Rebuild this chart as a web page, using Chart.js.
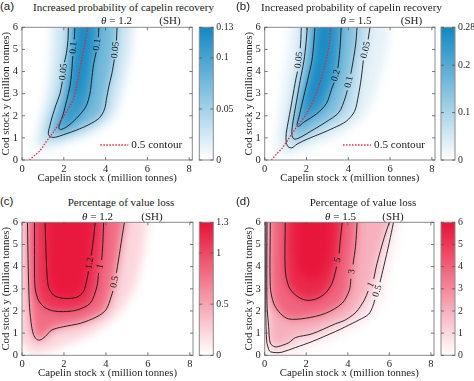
<!DOCTYPE html>
<html><head><meta charset="utf-8">
<script src="https://cdn.jsdelivr.net/npm/chart.js@4.4.1/dist/chart.umd.min.js"></script>
<style>
html,body{margin:0;padding:0;background:#fff;}
#fig{position:relative;width:474px;height:381px;overflow:hidden;background:#fff;}
.t{position:absolute;transform:translate(-50%,-50%);white-space:nowrap;font-family:"Liberation Serif",serif;font-size:11px;line-height:1;color:#1a1a1a;}
.p{position:absolute;transform:translateY(-50%);white-space:nowrap;font-family:"Liberation Sans",Arial,sans-serif;font-size:11.5px;line-height:1;color:#1a1a1a;}
</style></head><body><div id="fig"></div>
<script>
// ---------- axis ticks ----------
const xTicks = [0, 2, 4, 6, 8];
const yTicks = [0, 1, 2, 3, 4, 5, 6];
const aBarTicks = [0, 0.05, 0.1, 0.13];
const bBarTicks = [0, 0.1, 0.2, 0.28];
const cBarTicks = [0, 0.5, 1, 1.3];
const dBarTicks = [0, 1, 2, 3, 4, 5, 6];
const panelTitles = ['Increased probability of capelin recovery', 'Increased probability of capelin recovery', 'Percentage of value loss', 'Percentage of value loss'];
const thetas = ['1.2', '1.5', '1.2', '1.5'];
const xTitle = 'Capelin stock x (million tonnes)';
const yTitle = 'Cod stock y (million tonnes)';
const redLabel = '0.5 contour';

// ---------- panel (a) ----------
const aMax = 0.13;
const aLevels = [0.05, 0.1];
const aC005 = [[2.22,6],[2.2,5.4],[2.12,4.8],[2.03,4.42],null,[1.93,3.55],[1.82,3.0],[1.63,2.5],[1.46,2.0],[1.32,1.5],[1.26,1.2],[1.35,1.05],[1.6,1.03],[2.0,1.15],[2.6,1.35],[3.2,1.6],[3.7,1.9],[3.95,2.3],[4.05,2.8],[4.15,3.3],[4.3,3.9],[4.42,4.55],null,[4.52,5.4],[4.55,6]];
const aC01 = [[2.53,6],[2.5,5.45],null,[2.43,4.7],[2.37,3.9],[2.29,3.3],[2.14,2.7],[1.98,2.1],[1.82,1.65],[1.76,1.45],[1.85,1.38],[2.14,1.5],[2.6,1.88],[3.05,2.4],[3.25,3.0],[3.33,3.6],[3.42,4.3],[3.55,4.88],null,[3.65,5.55],[3.68,6]];
const aRed = [[0.35,0],[0.6,0.2],[0.86,0.42],[1.1,0.75],[1.34,1.05],[1.6,1.4],[1.95,1.9],[2.2,2.3],[2.45,2.75],[2.65,3.5],[2.85,4.5],[3.0,5.2],[3.15,6]];
const aHalo = [[1.45,6],[1.42,5],[1.35,4],[1.2,3],[0.95,2],[0.75,1.2],[0.7,0.7],[0.95,0.5],[1.6,0.65],[2.6,0.95],[3.6,1.35],[4.4,2.0],[4.75,3.0],[5.0,4.0],[5.2,5.0],[5.3,6]];
const aCore = [[2.72,6],[2.68,5.2],[2.6,4.4],[2.48,3.6],[2.35,3.0],[2.5,2.9],[2.8,3.3],[3.0,4.0],[3.12,4.8],[3.25,6]];
const aShadeVals = [0.025, 0.075, 0.112, 0.128];

// ---------- panel (b) ----------
const bMax = 0.28;
const bLevels = [0.05, 0.1, 0.2];
const bC005 = [[1.75,6],[1.73,5.45],[1.7,5.05],null,[1.57,4.0],[1.5,3.7],[1.32,2.75],[1.15,1.85],[1.03,1.2],[1.03,0.8],[1.12,0.6],[1.3,0.55],[1.55,0.72],[2.05,0.95],[2.7,1.2],[3.3,1.45],[3.9,1.75],[4.3,2.2],[4.48,2.9],[4.62,3.7],[4.72,4.5],null,[4.95,5.45],[5.04,6]];
const bC01 = [[2.04,6],[1.98,5.3],[1.88,4.5],[1.7,3.6],[1.55,2.8],[1.42,2.1],[1.32,1.5],[1.3,1.15],[1.4,0.95],[1.65,1.0],[2.2,1.3],[2.9,1.7],[3.55,2.15],[3.85,2.8],[3.95,3.15],null,[4.12,3.9],[4.2,4.3],[4.35,5.2],[4.42,6]];
const bC02 = [[2.4,6],[2.35,5.3],[2.26,4.5],[2.05,3.6],[1.8,2.6],[1.63,1.9],[1.55,1.6],[1.62,1.52],[1.86,1.7],[2.5,2.1],[2.95,2.55],[3.2,3.2],[3.32,3.5],null,[3.5,4.15],[3.56,4.6],[3.62,5.3],[3.66,6]];
const bRed = [[0.32,0],[0.55,0.25],[0.83,0.53],[1.16,0.98],[1.48,1.43],[1.96,2.04],[2.44,2.94],[2.84,4.15],[3.08,5.2],[3.16,6]];
const bHalo = [[1.2,6],[1.1,5],[0.95,4],[0.8,3],[0.65,2],[0.55,1.1],[0.55,0.4],[0.9,0.2],[1.7,0.4],[2.8,0.8],[3.9,1.3],[4.8,2.0],[5.3,3.0],[5.6,4.0],[5.85,5.0],[6.0,6]];
const bCore = [[2.55,6],[2.5,5.2],[2.4,4.4],[2.25,3.6],[2.05,2.8],[2.0,2.4],[2.3,2.5],[2.7,3.1],[2.95,3.9],[3.1,4.8],[3.25,6]];
const bShadeVals = [0.03, 0.075, 0.15, 0.24, 0.272];

// ---------- panel (c) ----------
const cMax = 1.3;
const cLevels = [0.5, 1, 1.2];
const cC05 = [[0.26,6],[0.3,3.85],[0.35,2.35],[0.43,1.5],[0.54,0.95],[0.7,0.72],[0.86,0.69],[1.1,0.84],[1.42,1.14],[1.97,1.29],[2.77,1.44],[3.57,1.74],[4.0,2.05],[4.25,2.64],[4.33,2.9],null,[4.5,3.72],[4.6,4.3],[4.77,5.35],[4.88,6]];
const cC1 = [[0.6,6],[0.6,4.5],[0.62,3.1],[0.78,2.49],[1.1,2.15],[1.5,2.0],[1.97,1.97],[2.61,2.04],[3.25,2.35],[3.57,3.1],[3.65,3.72],null,[3.8,4.3],[3.85,5.0],[3.89,6]];
const cC12 = [[1.1,6],[1.15,4.5],[1.18,3.85],[1.26,3.1],[1.5,2.72],[1.98,2.57],[2.61,2.62],[2.93,2.87],[3.09,3.4],[3.17,3.8],null,[3.3,4.5],[3.4,5.2],[3.49,6]];
const cHalo = [[-1,6],[-1,1.0],[-0.1,0.6],[0.4,0.1],[1.2,0.15],[2.3,0.55],[3.3,0.95],[4.3,1.6],[5.0,2.4],[5.45,3.3],[5.75,4.5],[5.95,6]];
const cShadeVals = [0.22, 0.8, 1.1, 1.26];

// ---------- panel (d) ----------
const dMax = 6;
const dLevels = [0.5, 1, 3, 5];
const dC05 = [[0.05,6],[0.05,2],[0.1,0.6],[0.2,0.25],[0.27,0.16],[0.55,0.12],[0.83,0.14],[1.48,0.35],[2.28,0.62],[3.4,1.07],[3.89,1.29],[4.53,1.59],[5.0,1.85],[5.2,2.2],[5.3,2.5],null,[5.55,3.3],[5.73,4.0],[6.0,5.1],[6.2,6]];
const dC1 = [[0.11,6],[0.11,2.35],[0.19,1.29],[0.27,0.55],[0.5,0.38],[0.85,0.45],[1.16,0.57],[1.48,0.8],[2.28,0.97],[3.4,1.42],[3.89,1.6],[4.4,1.95],[4.8,2.5],[4.98,2.9],null,[5.25,3.45],[5.41,4.15],[5.75,5.3],[6.0,6]];
const dC3 = [[0.27,6],[0.27,3.1],[0.43,2.35],[0.75,1.89],[1.16,1.64],[1.96,1.67],[2.92,1.89],[3.73,2.35],[4.08,2.95],[4.15,3.45],null,[4.25,4.1],[4.37,4.9],[4.45,6]];
const dC5 = [[0.99,6],[0.99,3.85],[1.16,3.1],[1.48,2.72],[1.96,2.49],[2.44,2.53],[2.92,2.8],[3.24,3.25],[3.4,3.75],[3.46,4.0],null,[3.58,4.6],[3.64,5.2],[3.73,6]];
const dHalo = [[-0.05,6],[-0.05,0.2],[0.2,-0.05],[1.0,-0.05],[2.3,0.3],[3.5,0.75],[4.6,1.3],[5.4,1.9],[5.8,2.8],[6.1,4.0],[6.4,5.2],[6.6,6]];
const dCore = [[1.5,6],[1.5,4.6],[1.7,3.7],[2.1,3.4],[2.6,3.5],[2.95,4.0],[3.15,4.8],[3.25,6]];
const dShadeVals = [0.25, 0.7, 2.0, 3.9, 5.4, 5.9];

// ---------- helpers ----------
const BLUE = [18, 136, 194], RED = [232, 18, 56];
const BLUR = 5;
const SERIF = '"Liberation Serif", serif';
Chart.defaults.font.family = SERIF;
Chart.defaults.font.size = 10.5;
Chart.defaults.color = '#262626';

function cmap(v, max, top) {
  const f = Math.max(0, Math.min(1, v / max));
  const c = top.map(t => Math.round(255 + (t - 255) * f));
  return `rgb(${c[0]},${c[1]},${c[2]})`;
}
const toXY = pts => pts.map(p => p ? {x: p[0], y: p[1]} : {x: null, y: null});
function closeTop(pts) {
  const q = pts.filter(Boolean);
  return [...q, [q[q.length - 1][0], 7.5], [q[0][0], 7.5]];
}
const fig = document.getElementById('fig');
function mkCanvas(L, T, W, H) {
  const c = document.createElement('canvas');
  c.width = W; c.height = H;
  c.style.cssText = `position:absolute;left:${L}px;top:${T}px;width:${W}px;height:${H}px`;
  fig.appendChild(c);
  return c;
}

// ---------- plugins ----------
const framePlugin = {id: 'frame', afterDraw(chart) {
  const {ctx, chartArea: a} = chart;
  ctx.save();
  ctx.filter = 'none';
  ctx.strokeStyle = '#8a8a8a'; ctx.lineWidth = 1;
  ctx.strokeRect(a.left, a.top, a.right - a.left, a.bottom - a.top);
  ctx.strokeStyle = '#555'; ctx.lineWidth = 0.8;
  const xs = chart.scales.x, ys = chart.scales.y;
  ctx.beginPath();
  if (xs && xs.options.display !== false) {
    xs.ticks.forEach(t => { const px = xs.getPixelForValue(t.value);
      ctx.moveTo(px, a.bottom); ctx.lineTo(px, a.bottom - 3);
      ctx.moveTo(px, a.top); ctx.lineTo(px, a.top + 3); });
  }
  ys.ticks.forEach(t => { const py = ys.getPixelForValue(t.value);
    ctx.moveTo(a.left, py); ctx.lineTo(a.left + 3, py);
    ctx.moveTo(a.right, py); ctx.lineTo(a.right - 3, py); });
  ctx.stroke();
  ctx.restore();
}};
const isShade = (chart, meta) => meta && chart.data.datasets[meta.index].shade;
const blurPlugin = {id: 'blur',
  beforeDatasetsDraw(chart) { const m = chart.getSortedVisibleDatasetMetas();
    chart.ctx.filter = isShade(chart, m[m.length - 1]) ? `blur(${BLUR}px)` : 'none'; },
  afterDatasetDraw(chart, args) { const m = chart.getSortedVisibleDatasetMetas();
    const p = m.indexOf(args.meta);
    chart.ctx.filter = isShade(chart, m[p - 1]) ? `blur(${BLUR}px)` : 'none'; },
  afterDatasetsDraw(chart) { chart.ctx.filter = 'none'; }
};
const labelPlugin = {id: 'clabels', afterDatasetsDraw(chart) {
  const ctx = chart.ctx;
  ctx.save(); ctx.filter = 'none';
  ctx.font = '9.5px ' + SERIF; ctx.fillStyle = '#111';
  ctx.textAlign = 'center'; ctx.textBaseline = 'middle';
  chart.data.datasets.forEach((ds, i) => {
    if (!ds.contourLabel) return;
    const pts = chart.getDatasetMeta(i).data;
    for (let k = 1; k < pts.length - 1; k++) {
      if (!pts[k].skip) continue;
      const p1 = pts[k - 1], p2 = pts[k + 1];
      if (p1.skip || p2.skip) continue;
      let ang = Math.atan2(p2.y - p1.y, p2.x - p1.x);
      if (ang > Math.PI / 2) ang -= Math.PI;
      if (ang <= -Math.PI / 2) ang += Math.PI;
      ctx.save(); ctx.translate((p1.x + p2.x) / 2, (p1.y + p2.y) / 2); ctx.rotate(ang);
      ctx.fillText(ds.contourLabel, 0, 0); ctx.restore();
    }
  });
  ctx.restore();
}};
const legendPlugin = {id: 'clegend', afterDatasetsDraw(chart) {
  const ds = chart.data.datasets.find(d => d.legendItem);
  if (!ds) return;
  const a = chart.chartArea, ctx = chart.ctx;
  ctx.save(); ctx.filter = 'none';
  ctx.font = '11.2px ' + SERIF; ctx.fillStyle = '#1a1a1a';
  ctx.textBaseline = 'middle'; ctx.textAlign = 'left';
  const w = ctx.measureText(ds.label).width;
  const tx = a.right - 10 - w, ty = a.bottom - 15;
  ctx.fillText(ds.label, tx, ty);
  ctx.strokeStyle = ds.borderColor; ctx.lineWidth = ds.borderWidth; ctx.setLineDash(ds.borderDash);
  ctx.beginPath(); ctx.moveTo(tx - 3 - 28, ty); ctx.lineTo(tx - 3, ty); ctx.stroke();
  ctx.restore();
}};

// ---------- builders ----------
function mainChart(P) {
  const {l, t, r, b} = P.rect;
  const L = Math.round(l - 22), T = Math.round(t - 7);
  const W = Math.ceil(r + 4 - L), H = Math.round(b + 30 - T);
  const cv = mkCanvas(L, T, W, H);
  const datasets = [];
  P.shades.forEach((pts, i) => datasets.push({
    data: toXY(closeTop(pts)), fill: 'shape', backgroundColor: cmap(P.shadeVals[i], P.max, P.top),
    borderWidth: 0, borderColor: 'rgba(0,0,0,0)', pointRadius: 0, tension: 0.3, order: 100 - i, shade: true}));
  P.contours.forEach((pts, i) => datasets.push({
    data: toXY(pts), fill: false, borderColor: '#151515', borderWidth: 0.9, pointRadius: 0,
    tension: 0.3, order: 5, contourLabel: String(P.levels[i])}));
  if (P.red) datasets.push({label: redLabel, data: toXY(P.red), fill: false, borderColor: '#e3263a',
    borderDash: [1.5, 1.5], borderWidth: 1.3, pointRadius: 0, tension: 0.3, order: 1, legendItem: true});
  new Chart(cv, {
    type: 'line', data: {datasets},
    options: {
      animation: false, responsive: false, maintainAspectRatio: false,
      layout: {padding: {left: 0, top: t - T, right: L + W - r, bottom: 0}},
      plugins: {legend: {display: false}, tooltip: {enabled: false}},
      scales: {
        x: {type: 'linear', min: 0, max: 8.15,
          afterBuildTicks: s => { s.ticks = xTicks.map(v => ({value: v})); },
          afterFit: s => { s.height = T + H - b; s.paddingLeft = 0; s.paddingRight = 0; },
          grid: {display: false, drawTicks: false}, border: {display: false},
          ticks: {padding: 2.5, callback: v => String(v)},
          title: {display: true, text: xTitle, font: {size: 10.8}, padding: {top: 0, bottom: 5}}},
        y: {type: 'linear', min: 0, max: 6,
          afterBuildTicks: s => { s.ticks = yTicks.map(v => ({value: v})); },
          afterFit: s => { s.width = l - L; s.paddingTop = 0; s.paddingBottom = 0; },
          grid: {display: false, drawTicks: false}, border: {display: false},
          ticks: {padding: 4, callback: v => String(v)},
          title: {display: true, text: yTitle, font: {size: 10.8}, padding: {top: 0, bottom: 0}}}
      }
    },
    plugins: [blurPlugin, framePlugin, labelPlugin, legendPlugin]
  });
}
function colorBar(P) {
  const {l, t, r, b} = P.cb;
  const L = Math.floor(l) - 1, T = Math.floor(t) - 9;
  const W = P.cbRight - L, H = Math.ceil(b) + 8 - T;
  const cv = mkCanvas(L, T, W, H);
  new Chart(cv, {
    type: 'bar',
    data: {labels: [''], datasets: [{data: [P.max], borderWidth: 0, barPercentage: 1, categoryPercentage: 1,
      backgroundColor: ctx => { const a = ctx.chart.chartArea; if (!a) return cmap(P.max, P.max, P.top);
        const g = ctx.chart.ctx.createLinearGradient(0, a.bottom, 0, a.top);
        g.addColorStop(0, '#ffffff'); g.addColorStop(1, cmap(P.max, P.max, P.top)); return g; }}]},
    options: {
      animation: false, responsive: false, maintainAspectRatio: false,
      layout: {padding: {left: l - L, top: t - T, right: 0, bottom: T + H - b}},
      plugins: {legend: {display: false}, tooltip: {enabled: false}},
      scales: {
        x: {display: false},
        y: {position: 'right', min: 0, max: P.max,
          afterBuildTicks: s => { s.ticks = P.barTicks.map(v => ({value: v})); },
          afterFit: s => { s.width = L + W - r; s.paddingTop = 0; s.paddingBottom = 0; },
          grid: {display: false, drawTicks: false}, border: {display: false},
          ticks: {padding: 3, font: {size: 9.8}, callback: v => String(v)}}
      }
    },
    plugins: [framePlugin]
  });
}

const PANELS = [
  {rect: {l: 22, t: 27.3, r: 192.3, b: 160}, cb: {l: 199.3, t: 27.3, r: 213.3, b: 160}, cbRight: 240,
   max: aMax, top: BLUE, barTicks: aBarTicks, shades: [aHalo, aC005, aC01, aCore], shadeVals: aShadeVals,
   contours: [aC005, aC01], levels: aLevels, red: aRed},
  {rect: {l: 264.7, t: 27.3, r: 435, b: 160}, cb: {l: 441, t: 27.3, r: 455, b: 160}, cbRight: 474,
   max: bMax, top: BLUE, barTicks: bBarTicks, shades: [bHalo, bC005, bC01, bC02, bCore], shadeVals: bShadeVals,
   contours: [bC005, bC01, bC02], levels: bLevels, red: bRed},
  {rect: {l: 22, t: 222.3, r: 193, b: 355.3}, cb: {l: 199.3, t: 222.3, r: 213.3, b: 355.3}, cbRight: 240,
   max: cMax, top: RED, barTicks: cBarTicks, shades: [cHalo, cC05, cC1, cC12], shadeVals: cShadeVals,
   contours: [cC05, cC1, cC12], levels: cLevels, red: null},
  {rect: {l: 264.7, t: 222.3, r: 434, b: 355.3}, cb: {l: 441, t: 222.3, r: 455, b: 355.3}, cbRight: 474,
   max: dMax, top: RED, barTicks: dBarTicks, shades: [dHalo, dC05, dC1, dC3, dC5, dCore], shadeVals: dShadeVals,
   contours: [dC05, dC1, dC3, dC5], levels: dLevels, red: null}
];
PANELS.forEach(P => { mainChart(P); colorBar(P); });

// ---------- titles ----------
function addText(cls, html, x, y) {
  const d = document.createElement('div');
  d.className = cls; d.innerHTML = html;
  d.style.left = x + 'px'; d.style.top = y + 'px';
  fig.appendChild(d);
}
const titleLayout = [
  {tag: [0, 6.5], title: [123.5, 6.5], theta: [116.5, 20], sh: [170, 20]},
  {tag: [236, 6.5], title: [351.5, 6.5], theta: [356, 20], sh: [411.5, 20]},
  {tag: [0, 202], title: [121, 202], theta: [97.5, 216], sh: [152, 216]},
  {tag: [236, 202], title: [363, 202], theta: [340.5, 216], sh: [393, 216]}
];
['(a)', '(b)', '(c)', '(d)'].forEach((tg, i) => {
  const Lo = titleLayout[i];
  addText('p', tg, Lo.tag[0], Lo.tag[1]);
  addText('t', panelTitles[i], Lo.title[0], Lo.title[1]);
  addText('t', '<i>θ</i> = ' + thetas[i], Lo.theta[0], Lo.theta[1]);
  addText('t', '(SH)', Lo.sh[0], Lo.sh[1]);
});
</script>
</body></html>
